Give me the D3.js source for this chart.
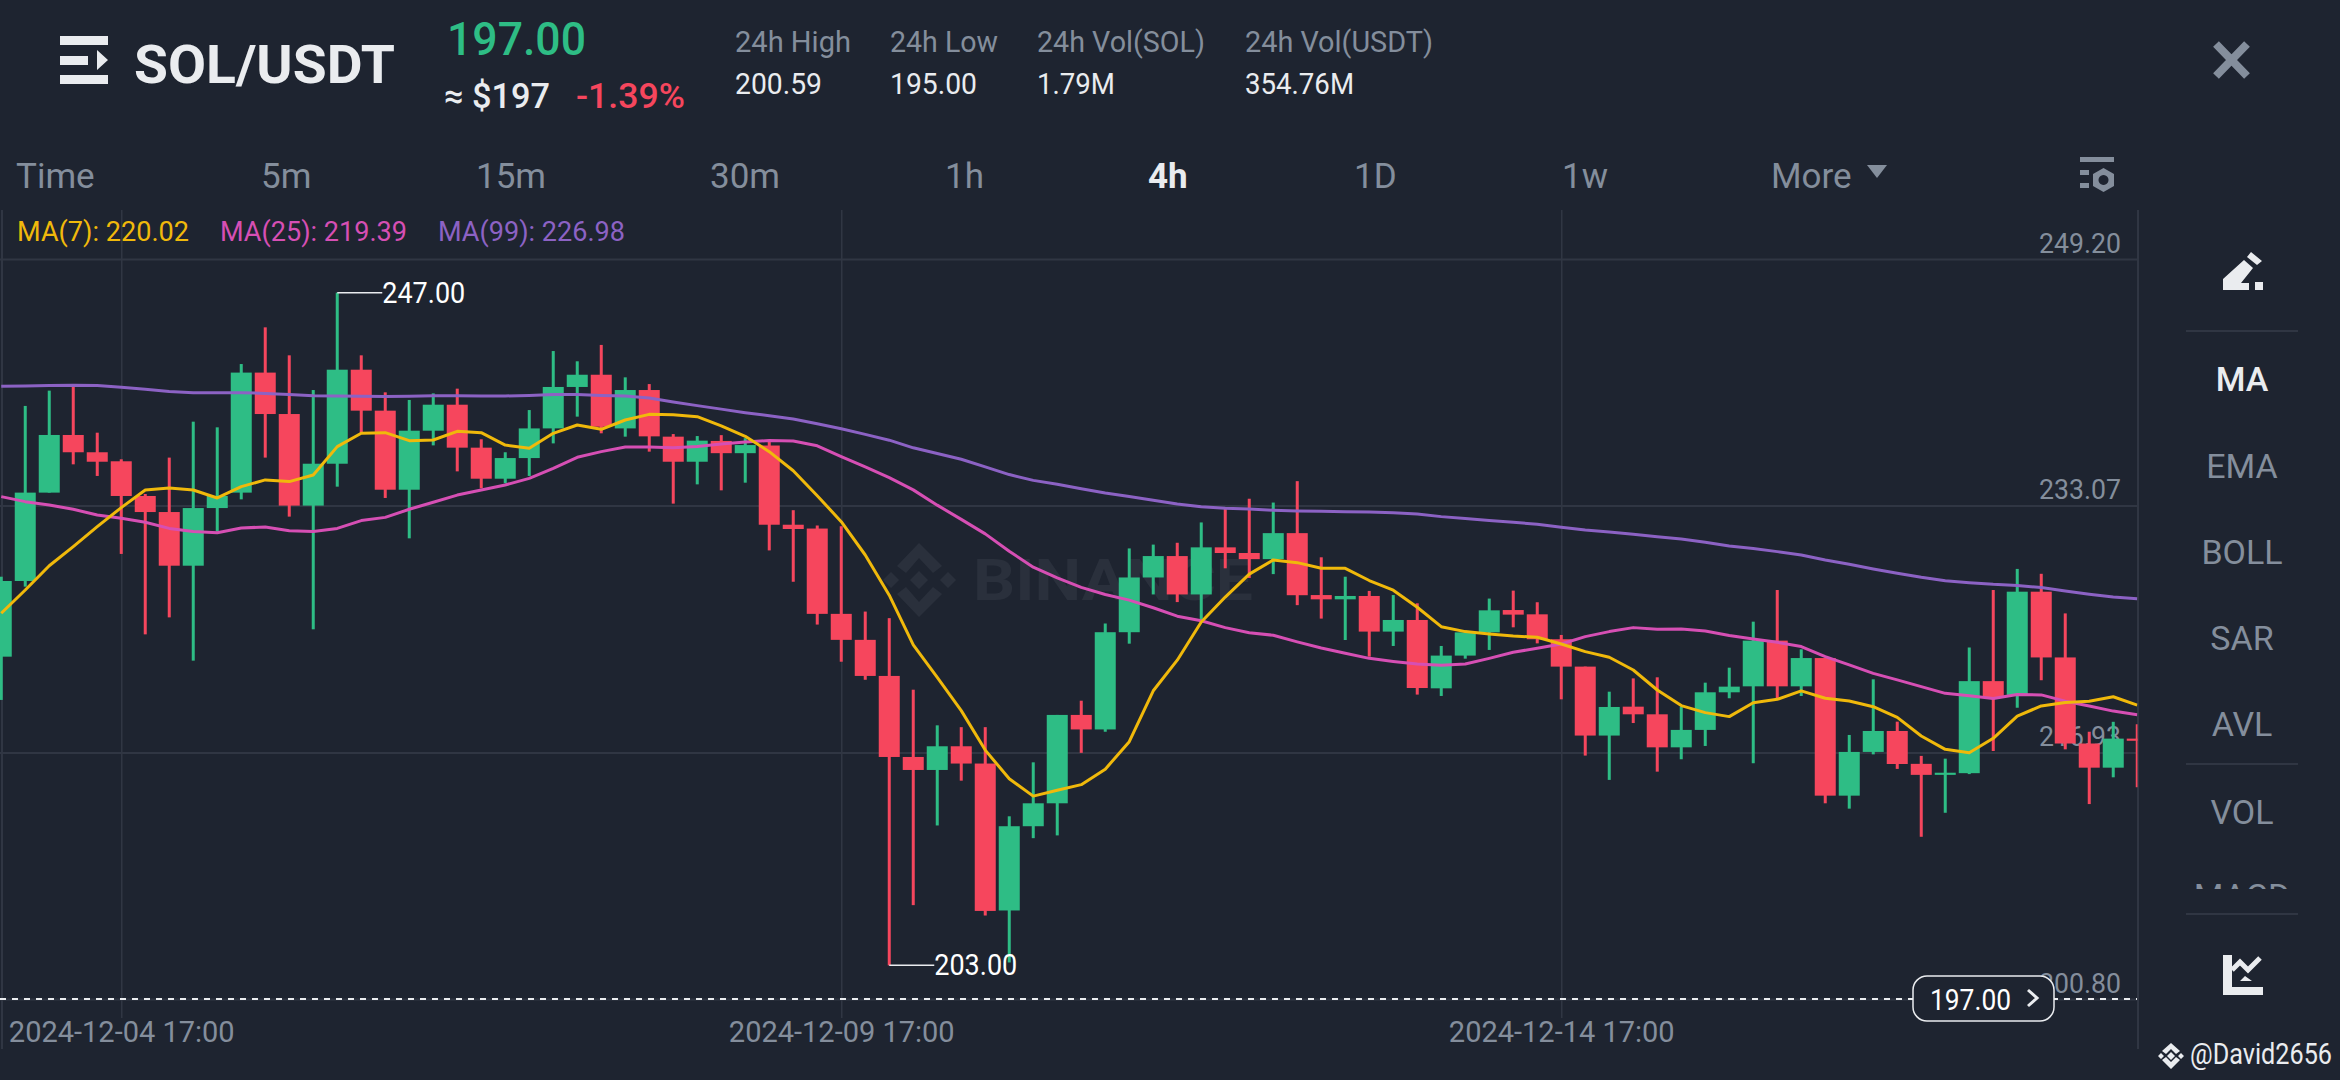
<!DOCTYPE html>
<html>
<head>
<meta charset="utf-8">
<title>SOL/USDT</title>
<script src="https://cdn.jsdelivr.net/npm/d3@7"></script>
<style>
  html, body { margin: 0; padding: 0; background: #1e2430; overflow: hidden; }
  svg { display: block; }
  text { font-family: Roboto, "Noto Sans", sans-serif; }
</style>
</head>
<body>
<svg id="chart" width="2340" height="1080"></svg>
<script>
// candle values
const opens = [
  223.19, 228.14, 233.92, 237.69, 236.56, 235.97, 233.70, 232.65, 229.14, 232.91,
  233.92, 241.77, 239.06, 233.07, 235.81, 241.96, 239.28, 234.11, 237.97, 239.67,
  236.86, 234.83, 236.18, 238.12, 240.83, 241.63, 238.12, 240.63, 237.58, 235.94,
  237.30, 236.50, 237.00, 231.82, 231.57, 225.99, 224.29, 221.93, 216.63, 215.78,
  217.33, 216.20, 206.59, 212.10, 213.60, 219.38, 218.43, 224.79, 228.37, 229.77,
  227.26, 230.34, 229.97, 229.57, 231.27, 227.22, 226.94, 227.16, 224.83, 225.59,
  221.12, 223.26, 224.78, 226.24, 225.96, 224.33, 222.54, 218.03, 219.92, 219.42,
  217.26, 218.40, 220.86, 221.25, 224.24, 221.25, 223.10, 214.10, 216.96, 218.33,
  216.18, 215.46, 215.57, 221.59, 220.69, 227.44, 223.14, 217.51, 215.93, 217.83
];
const highs = [
  228.42, 239.59, 240.59, 240.85, 237.84, 236.10, 233.83, 236.21, 238.56, 238.19,
  242.33, 244.73, 242.90, 240.63, 247.00, 242.90, 240.48, 239.98, 240.41, 240.72,
  237.41, 236.56, 239.32, 243.18, 242.51, 243.58, 241.46, 241.02, 237.75, 237.62,
  237.68, 237.48, 237.23, 232.77, 231.77, 231.72, 226.14, 225.71, 221.03, 218.70,
  218.58, 218.58, 212.75, 216.28, 219.38, 220.31, 225.36, 230.27, 230.52, 230.64,
  231.97, 232.85, 233.52, 233.27, 234.67, 229.69, 228.42, 227.49, 227.22, 226.68,
  223.89, 224.78, 226.99, 227.51, 226.75, 224.61, 222.54, 220.90, 221.77, 221.84,
  219.92, 221.49, 222.47, 225.48, 227.55, 223.67, 223.10, 218.07, 221.71, 218.94,
  216.70, 216.52, 223.79, 227.55, 228.93, 228.61, 226.02, 218.28, 218.93, 218.77
];
const lows = [
  220.36, 227.77, 233.92, 235.77, 235.01, 229.91, 224.65, 225.76, 222.93, 231.37,
  233.48, 236.21, 232.35, 224.98, 234.31, 237.80, 233.57, 230.93, 237.01, 235.31,
  234.20, 234.53, 235.01, 237.14, 238.89, 237.80, 237.58, 236.60, 233.20, 234.46,
  234.07, 234.57, 230.14, 228.09, 225.29, 222.86, 221.68, 203.00, 206.94, 212.15,
  215.08, 206.26, 203.19, 211.32, 211.50, 216.90, 218.28, 224.04, 227.26, 226.76,
  225.51, 228.97, 228.34, 228.59, 226.56, 225.68, 224.28, 223.19, 223.89, 220.71,
  220.62, 223.06, 223.63, 225.11, 224.06, 220.40, 216.72, 215.13, 218.85, 215.67,
  216.48, 217.35, 220.47, 216.22, 220.47, 220.62, 213.60, 213.25, 216.80, 215.85,
  211.41, 212.98, 215.51, 217.02, 219.85, 221.65, 217.13, 213.55, 215.30, 214.65
];
const closes = [
  228.14, 233.92, 237.69, 236.56, 235.94, 233.70, 232.65, 229.14, 232.91, 233.70,
  241.77, 239.06, 233.07, 235.81, 241.96, 239.28, 234.11, 237.97, 239.67, 236.86,
  234.83, 236.18, 238.12, 240.83, 241.63, 238.23, 240.63, 237.60, 235.94, 237.32,
  236.50, 237.03, 231.82, 231.54, 225.99, 224.29, 221.93, 216.63, 215.78, 217.33,
  216.20, 206.56, 212.10, 213.60, 219.38, 218.43, 224.79, 228.37, 229.77, 227.26,
  230.34, 229.97, 229.57, 231.27, 227.21, 226.94, 227.16, 224.83, 225.59, 221.14,
  223.26, 224.78, 226.22, 225.94, 224.33, 222.54, 218.03, 219.90, 219.42, 217.26,
  218.40, 220.86, 221.23, 224.24, 221.25, 223.10, 214.10, 216.96, 218.33, 216.17,
  215.46, 215.60, 221.59, 220.51, 227.44, 223.14, 217.51, 215.93, 217.83, 217.69
];
const ma7 = [
  226.03, 227.55, 229.14, 230.39, 231.69, 232.94, 234.09, 234.22, 234.09, 233.57,
  234.31, 234.75, 234.64, 235.07, 236.93, 237.80, 237.84, 237.32, 237.36, 237.93,
  237.84, 237.03, 236.82, 237.80, 238.34, 238.06, 238.67, 239.04, 239.02, 238.89,
  238.28, 237.60, 236.60, 235.35, 233.72, 232.02, 229.84, 227.21, 223.96, 221.83,
  219.66, 217.08, 215.20, 214.07, 214.45, 214.82, 215.83, 217.63, 220.96, 222.96,
  225.46, 227.09, 228.59, 229.52, 229.34, 228.97, 228.97, 228.17, 227.54, 226.42,
  225.15, 224.83, 224.67, 224.54, 224.46, 224.02, 223.52, 223.15, 222.32, 221.01,
  219.99, 219.53, 219.27, 220.18, 220.40, 220.95, 220.47, 220.29, 219.92, 219.22,
  218.00, 217.13, 216.91, 217.85, 219.30, 219.97, 220.19, 220.28, 220.57, 220.02
];
const ma25 = [
  233.66, 233.33, 233.11, 232.83, 232.46, 232.24, 231.98, 231.58, 231.37, 231.30,
  231.61, 231.67, 231.43, 231.37, 231.58, 232.09, 232.30, 232.83, 233.29, 233.76,
  234.09, 234.42, 234.85, 235.51, 236.23, 236.60, 236.90, 236.90, 236.86, 236.93,
  237.10, 237.23, 237.33, 237.30, 236.98, 236.28, 235.60, 234.90, 234.10, 233.10,
  232.17, 231.22, 230.09, 229.04, 228.34, 227.72, 227.26, 226.89, 226.39, 225.84,
  225.54, 225.09, 224.76, 224.59, 224.16, 223.76, 223.41, 223.08, 222.88, 222.71,
  222.63, 222.71, 223.08, 223.48, 223.74, 224.02, 224.50, 224.83, 225.09, 224.98,
  225.00, 224.87, 224.57, 224.35, 224.13, 223.85, 223.19, 222.65, 222.10, 221.67,
  221.23, 220.79, 220.64, 220.45, 220.72, 220.69, 220.28, 219.97, 219.63, 219.39
];
const ma99 = [
  240.87, 240.89, 240.92, 240.94, 240.92, 240.81, 240.68, 240.54, 240.46, 240.46,
  240.46, 240.41, 240.33, 240.26, 240.24, 240.22, 240.20, 240.22, 240.26, 240.26,
  240.24, 240.24, 240.28, 240.33, 240.33, 240.28, 240.24, 240.11, 239.85, 239.61,
  239.38, 239.15, 238.95, 238.73, 238.43, 238.10, 237.73, 237.35, 236.85, 236.48,
  236.10, 235.60, 235.10, 234.72, 234.47, 234.17, 233.90, 233.67, 233.42, 233.17,
  233.00, 232.90, 232.85, 232.77, 232.72, 232.70, 232.67, 232.65, 232.60, 232.52,
  232.35, 232.22, 232.09, 231.98, 231.85, 231.65, 231.48, 231.35, 231.19, 231.04,
  230.89, 230.67, 230.43, 230.26, 230.06, 229.84, 229.51, 229.23, 228.93, 228.64,
  228.38, 228.16, 228.03, 227.92, 227.85, 227.71, 227.49, 227.28, 227.10, 226.98
];

const priceTicks = [249.20, 233.07, 216.93, 200.80];
const dateTicks = ["2024-12-04 17:00", "2024-12-09 17:00", "2024-12-14 17:00"];
const firstBar = "2024-12-03 21:00";
const periods = ["Time", "5m", "15m", "30m", "1h", "4h", "1D", "1w", "More"];
const periodX = [16, 261, 476, 710, 945, 1148, 1354, 1562, 1771];
const indicators = ["MA", "EMA", "BOLL", "SAR", "AVL", "VOL", "MACD"];
const indicatorY = [391, 478, 564, 650, 736, 824, 908];
const stats = [["24h High", "200.59"], ["24h Low", "195.00"], ["24h Vol(SOL)", "1.79M"], ["24h Vol(USDT)", "354.76M"]];
const statX = [735, 890, 1037, 1245];
const statWidth = [[116, 87], [108, 87], [168, 78], [188, 109]];
const maLabels = ["MA(7): 220.02", "MA(25): 219.39", "MA(99): 226.98"];
const maLabelX = [17, 220, 438];
const maLabelWidth = [172, 187, 187];
const lastPrice = 197.00;

const BG = "#1e2430", GRID = "#303643", GREY = "#848e9c", WHITE = "#eaecef";
const GREEN = "#2ebd85", RED = "#f6465d";
const MA_COLORS = ["#f0b90b", "#d64fb4", "#8c62c4"];

const svg = d3.select("#chart");
svg.append("rect").attr("width", 2340).attr("height", 1080).attr("fill", BG);

const parseTime = d3.utcParse("%Y-%m-%d %H:%M");
const formatTime = d3.utcFormat("%Y-%m-%d %H:%M");
const t0 = parseTime(firstBar).getTime();
const barTime = closes.map((d, i) => new Date(t0 + i * 4 * 3600 * 1000));

const x = d3.scaleUtc().domain([barTime[0], barTime[barTime.length - 1]]).range([1.25, 2137.25]);
const y = d3.scaleLinear().domain([200.80, 249.20]).range([999, 259]);

// small text helper, everything in the header and side bar goes through here
function label(g, px, py, str, size, color, weight, anchor, width) {
  const t = g.append("text")
    .attr("x", px).attr("y", py)
    .attr("font-size", size)
    .attr("font-weight", weight || 400)
    .attr("text-anchor", anchor || "start")
    .attr("fill", color)
    .text(str);
  // the original font is narrower than Roboto, squeeze to the same width
  if (width) t.attr("textLength", width).attr("lengthAdjust", "spacingAndGlyphs");
  return t;
}

// ---- header ----
const head = svg.append("g");
head.append("path").attr("fill", WHITE)
  .attr("d", "M60 36h48v9H60zM60 56h28v9H60zM97 50l11 10-11 10zM60 75h48v9H60z");
label(head, 134, 83, "SOL/USDT", 54, WHITE, 700, "start", 261);
label(head, 447, 55, "197.00", 46, GREEN, 500, "start", 139);
label(head, 444, 108, "≈ $197", 35, WHITE, 500, "start", 106);
label(head, 576, 108, "-1.39%", 35, RED, 500, "start", 109);
stats.forEach((s, i) => {
  label(head, statX[i], 52, s[0], 30, GREY, 400, "start", statWidth[i][0]);
  label(head, statX[i], 94, s[1], 30, WHITE, 400, "start", statWidth[i][1]);
});
head.append("path").attr("stroke", GREY).attr("stroke-width", 8).attr("fill", "none")
  .attr("d", "M2216 44L2247 76M2247 44L2216 76");

// period tabs
periods.forEach((p, i) => {
  label(head, periodX[i], 188, p, 35, p === "4h" ? WHITE : GREY, p === "4h" ? 700 : 400);
});
head.append("path").attr("fill", GREY).attr("d", "M1867 165h20l-10 13z");
head.append("path").attr("fill", GREY)
  .attr("d", "M2080 157h34v5h-34zM2080 170h9v5h-9zM2080 183h9v5h-9z");
head.append("path").attr("fill", GREY).attr("fill-rule", "evenodd")
  .attr("d", "M2103.5 168l10.5 6v12l-10.5 6-10.5-6v-12zM2103.5 175a5 5 0 1 0 .01 0z");

// ---- chart frame, grid and axes ----
const frame = svg.append("g");
frame.selectAll("line.v").data([2, 2138]).enter().append("line")
  .attr("x1", d => d).attr("x2", d => d).attr("y1", 210).attr("y2", 1049)
  .attr("stroke", GRID).attr("stroke-width", 2);

// binance watermark sits under the candles
const mark = svg.append("g");
mark.append("path").attr("fill", "#2a303c")
  .attr("d", "M919 543l23 23-9 7-14-15-13 15-9-7zM919 617l23-23-9-7-14 15-13-15-9 7zM883 580l8-8 8 8-8 8zM956 580l-8-8-8 8 8 8zM919 571l9 9-9 9-9-9z");
label(mark, 973, 600, "BINANCE", 57, "#2a303c", 700, "start", 280);

const yAxis = d3.axisRight(y).tickValues(priceTicks).tickSize(2137).tickFormat(d3.format(".2f"));
const yG = svg.append("g").call(yAxis);
yG.select(".domain").remove();
yG.selectAll(".tick line").attr("stroke", GRID).attr("stroke-width", 2);
yG.selectAll(".tick text")
  .attr("x", 2121).attr("dy", -7).attr("text-anchor", "end")
  .attr("font-size", 28).attr("fill", GREY)
  .attr("textLength", 82).attr("lengthAdjust", "spacingAndGlyphs")
  .style("font-family", "Roboto, sans-serif");

const xAxis = d3.axisBottom(x).tickValues(dateTicks.map(parseTime)).tickSize(-808).tickFormat(formatTime);
const xG = svg.append("g").attr("transform", "translate(0,1018)").call(xAxis);
xG.select(".domain").remove();
xG.selectAll(".tick line").attr("stroke", GRID).attr("stroke-width", 1.5);
xG.selectAll(".tick text")
  .attr("y", 24).attr("dy", 0)
  .attr("font-size", 29).attr("fill", GREY)
  .style("font-family", "Roboto, sans-serif");

// ---- candles ----
svg.append("clipPath").attr("id", "plot").append("rect")
  .attr("x", 0).attr("y", 210).attr("width", 2137.5).attr("height", 840);
const plot = svg.append("g").attr("clip-path", "url(#plot)");

const candle = plot.selectAll("g.candle")
  .data(closes.map((c, i) => ({ t: barTime[i], o: opens[i], h: highs[i], l: lows[i], c: c })))
  .enter().append("g").classed("candle", true)
  .attr("fill", d => d.c >= d.o ? GREEN : RED);
candle.append("rect")
  .attr("x", d => x(d.t) - 1.5).attr("width", 3)
  .attr("y", d => y(d.h)).attr("height", d => y(d.l) - y(d.h));
candle.append("rect")
  .attr("x", d => x(d.t) - 10.5).attr("width", 21)
  .attr("y", d => y(Math.max(d.o, d.c)))
  .attr("height", d => Math.max(2, Math.abs(y(d.o) - y(d.c))));

// ---- moving averages ----
const maLine = d3.line().x((d, i) => x(barTime[i])).y(d => y(d));
[ma99, ma25, ma7].forEach((m, k) => {
  plot.append("path").attr("d", maLine(m)).attr("fill", "none")
    .attr("stroke", MA_COLORS[2 - k]).attr("stroke-width", 3).attr("stroke-linejoin", "round");
});
maLabels.forEach((s, i) => label(svg, maLabelX[i], 241, s, 28, MA_COLORS[i], 400, "start", maLabelWidth[i]));

// high and low markers
const hiIdx = highs.indexOf(d3.max(highs));
const loIdx = lows.indexOf(d3.min(lows));
[[hiIdx, highs[hiIdx]], [loIdx, lows[loIdx]]].forEach(d => {
  const px = x(barTime[d[0]]), py = y(d[1]);
  svg.append("line").attr("x1", px).attr("x2", px + 45).attr("y1", py).attr("y2", py)
    .attr("stroke", WHITE).attr("stroke-width", 1.5);
  label(svg, px + 45, py + 10, d[1].toFixed(2), 29, "#ffffff", 400, "start", 83);
});

// last price dashed line and pill
const lastY = 999; // the price is off the scale, the line gets pinned to the chart bottom
svg.append("line").attr("x1", 0).attr("x2", 2137).attr("y1", lastY).attr("y2", lastY)
  .attr("stroke", WHITE).attr("stroke-width", 2).attr("stroke-dasharray", "6 6");
svg.append("rect").attr("x", 1913).attr("y", 976).attr("width", 141).attr("height", 45).attr("rx", 14)
  .attr("fill", BG).attr("stroke", WHITE).attr("stroke-width", 1.5);
label(svg, 1930, 1010, lastPrice.toFixed(2), 30, "#ffffff", 400, "start", 81);
svg.append("path").attr("d", "M2028 990l9 8-9 8").attr("fill", "none").attr("stroke", WHITE).attr("stroke-width", 3);

// ---- right side bar ----
const side = svg.append("g");
svg.append("clipPath").attr("id", "sideClip").append("rect")
  .attr("x", 2140).attr("y", 300).attr("width", 200).attr("height", 589);
const sideList = side.append("g").attr("clip-path", "url(#sideClip)");
indicators.forEach((s, i) => {
  label(sideList, 2242, indicatorY[i], s, 34, i === 0 ? WHITE : GREY, i === 0 ? 500 : 400, "middle");
});
side.selectAll("line").data([331, 764, 914]).enter().append("line")
  .attr("x1", 2186).attr("x2", 2298).attr("y1", d => d).attr("y2", d => d)
  .attr("stroke", GRID).attr("stroke-width", 2);
// pencil icon
side.append("path").attr("fill", WHITE)
  .attr("d", "M2223 279L2244 260L2253 268L2241 283H2249V290H2223zM2247 257L2251 252L2262 261L2257 265zM2255 282h8v8h-8z");
// chart type icon
side.append("path").attr("fill", WHITE)
  .attr("d", "M2223 955h9v32h31v8h-40zM2240 981l5-5 7 5z");
side.append("path").attr("fill", "none").attr("stroke", WHITE).attr("stroke-width", 5)
  .attr("d", "M2232 970L2240 962L2248 970L2260 958");

// user tag
const tag = svg.append("g");
tag.append("path").attr("fill", WHITE)
  .attr("d", "M2171 1043l9 8-4 3-5-5-5 5-4-3zM2171 1069l9-9-4-3-5 5-5-5-4 3zM2158 1056l3-3 3 3-3 3zM2184 1056l-3-3-3 3 3 3zM2171 1052l4 4-4 4-4-4z");
label(tag, 2190, 1064, "@David2656", 29, WHITE, 400, "start", 142);
</script>
</body>
</html>
